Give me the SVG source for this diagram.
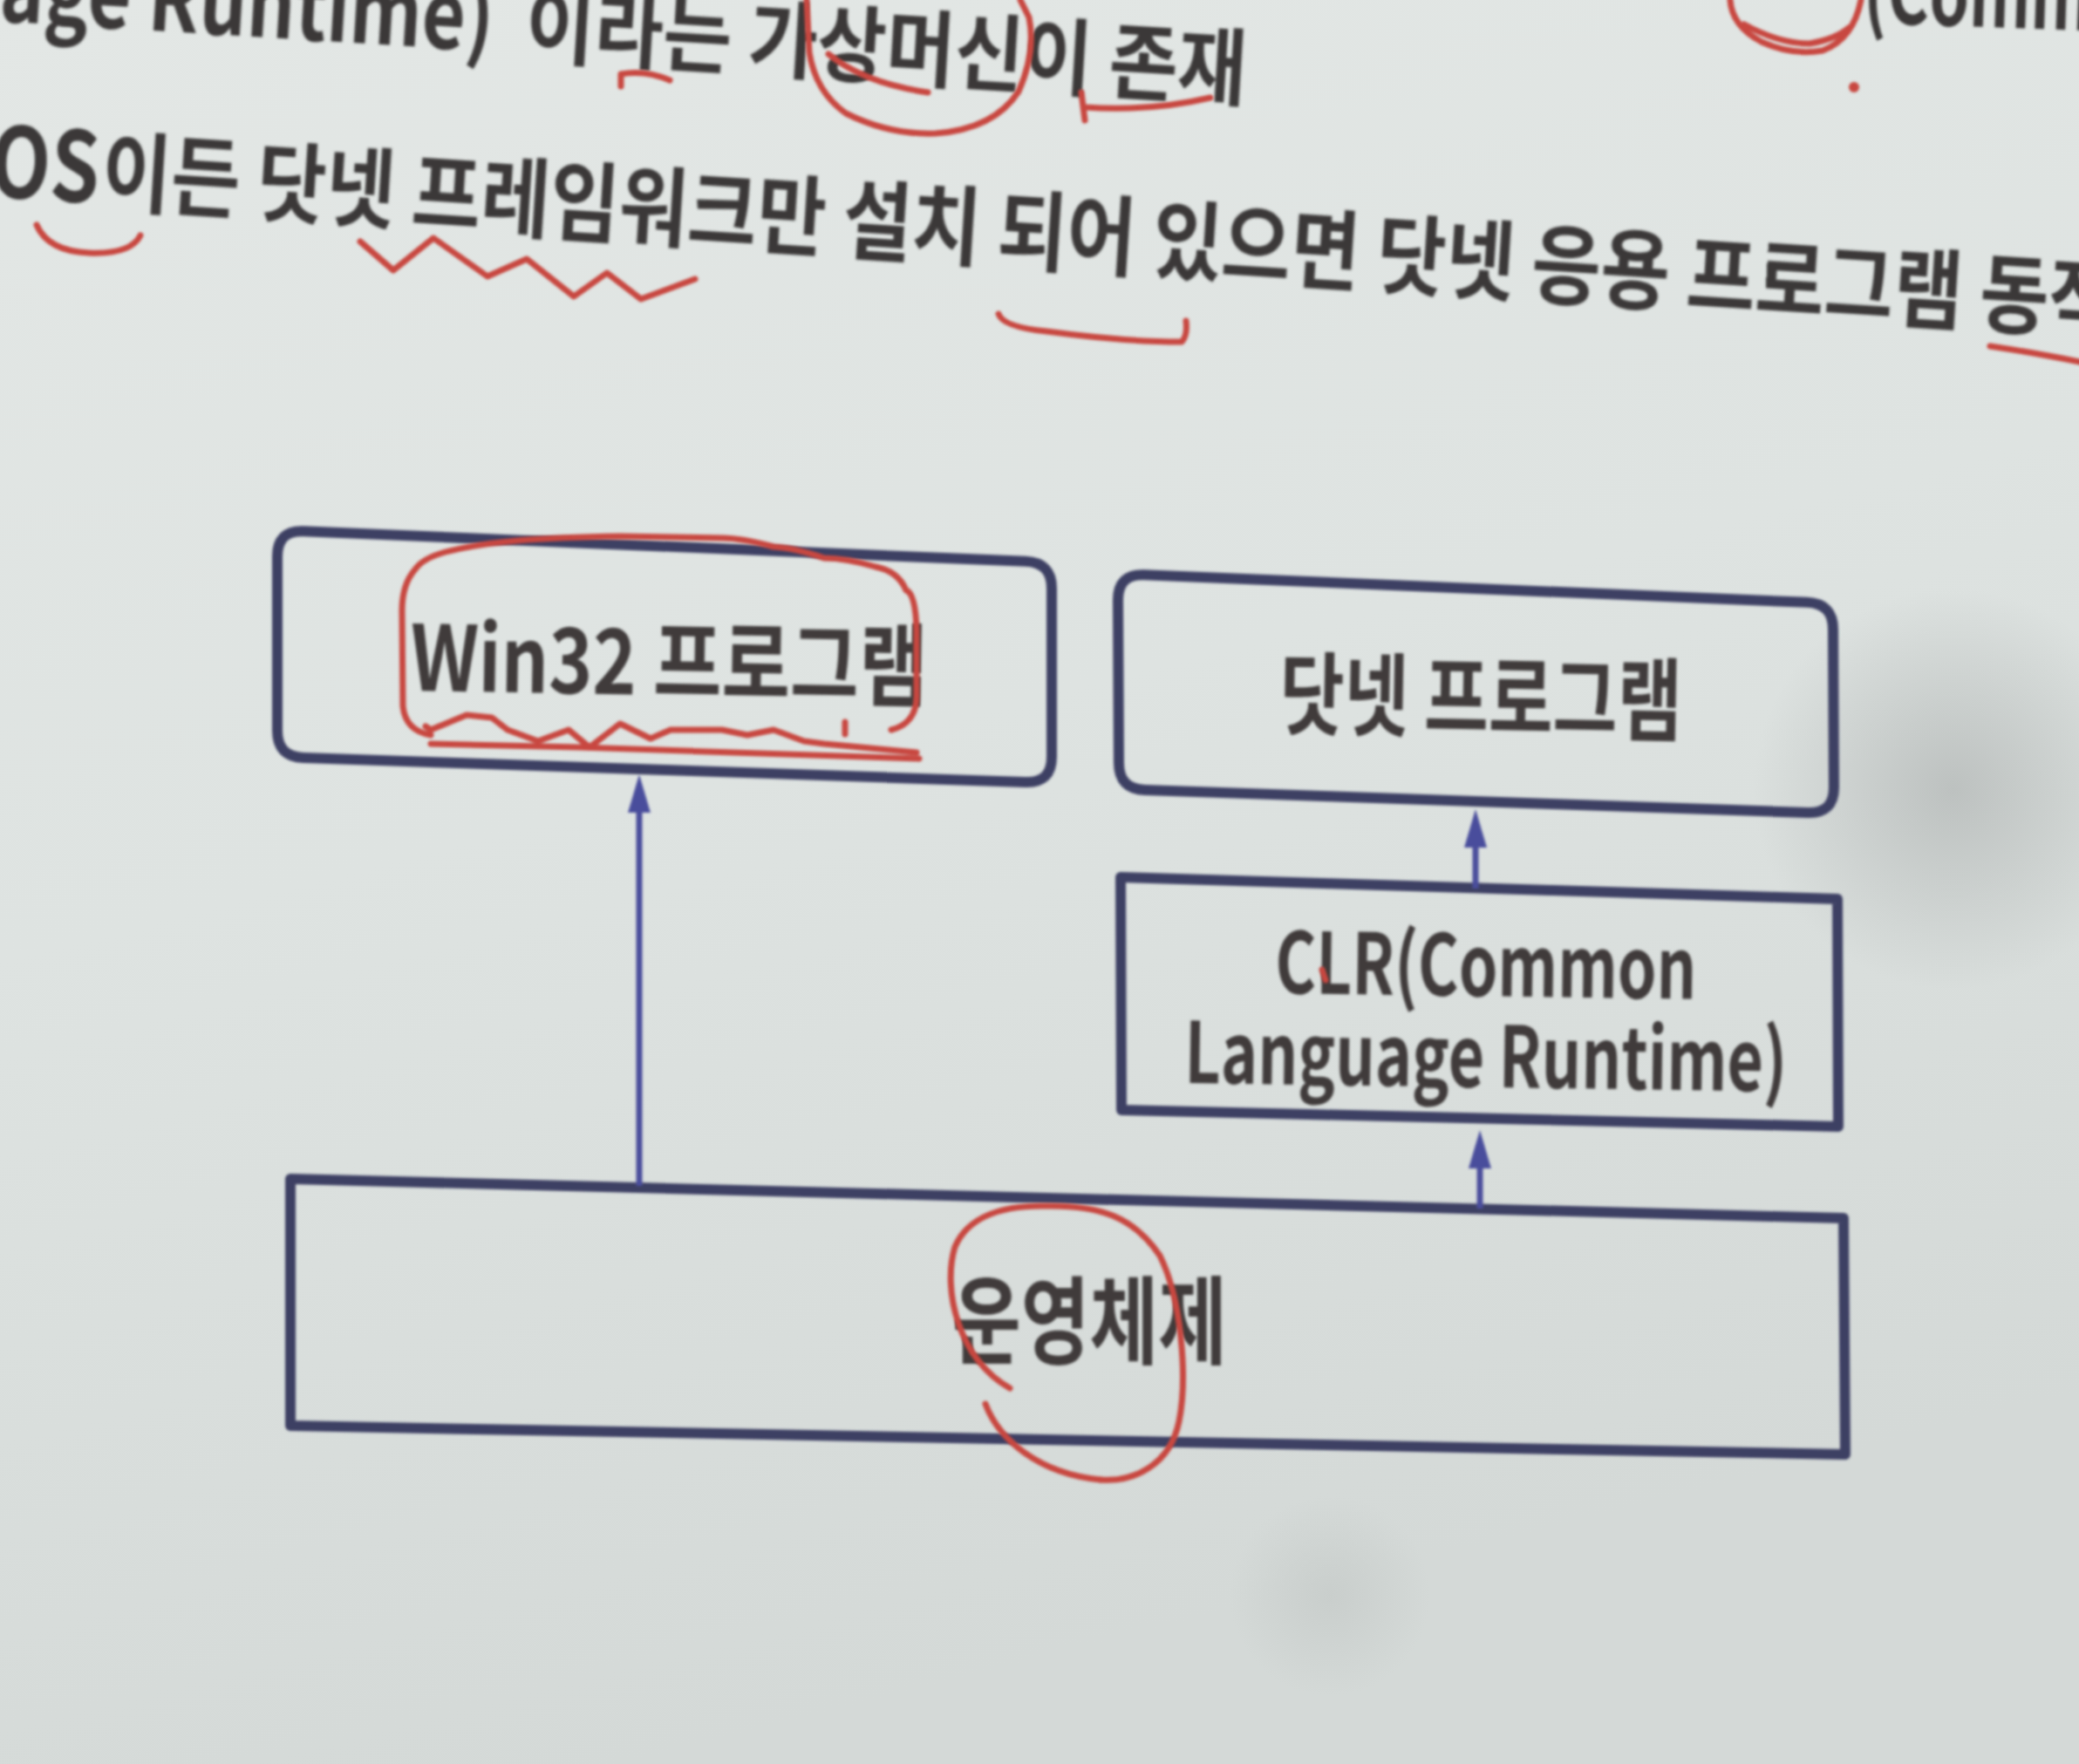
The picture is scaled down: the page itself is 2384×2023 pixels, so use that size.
<svg xmlns="http://www.w3.org/2000/svg" width="2384" height="2023" viewBox="0 0 2384 2023">
<defs>
<linearGradient id="bg" x1="0" y1="0" x2="0.3" y2="1">
<stop offset="0" stop-color="#e3e7e5"/>
<stop offset="0.5" stop-color="#dee3e1"/>
<stop offset="1" stop-color="#d4d9d7"/>
</linearGradient>
<radialGradient id="shadowR" cx="2240" cy="905" r="230" gradientUnits="userSpaceOnUse">
<stop offset="0" stop-color="#a9adac" stop-opacity="0.6"/>
<stop offset="0.5" stop-color="#a9adac" stop-opacity="0.3"/>
<stop offset="1" stop-color="#a9adac" stop-opacity="0"/>
</radialGradient>
<radialGradient id="shadowB" cx="1525" cy="1830" r="115" gradientUnits="userSpaceOnUse">
<stop offset="0" stop-color="#b5bab8" stop-opacity="0.35"/>
<stop offset="1" stop-color="#b5bab8" stop-opacity="0"/>
</radialGradient>
<filter id="soft" filterUnits="userSpaceOnUse" x="0" y="0" width="2384" height="2023"><feGaussianBlur stdDeviation="1.8"/></filter>
<marker id="arrow" viewBox="0 0 44 26" refX="29" refY="13" markerWidth="44" markerHeight="26" markerUnits="userSpaceOnUse" orient="auto"><path d="M0,0 L44,13 L0,26 Z" fill="#4a4e9c"/></marker>
</defs>
<style>
.box{fill:none;stroke:#3e4064;stroke-width:12;stroke-linejoin:round}
.lbl{font-family:"Noto Sans CJK KR","Noto Sans",sans-serif;font-weight:700;fill:#3f3b3b}
.slide{font-family:"Noto Sans CJK KR","Noto Sans",sans-serif;font-weight:700;fill:#3b3838}
.conn{stroke:#4a4e9c;stroke-width:7;fill:none}
.pen{fill:none;stroke:#c8463f;stroke-width:7;stroke-linecap:round;stroke-linejoin:round}
</style>
<rect x="0" y="0" width="2384" height="2023" fill="url(#bg)"/>
<rect x="1980" y="640" width="404" height="540" fill="url(#shadowR)"/>
<rect x="1380" y="1690" width="290" height="290" fill="url(#shadowB)"/>

<g id="slide-text" filter="url(#soft)">
<text class="slide" x="2136" y="26" font-size="100" textLength="262" lengthAdjust="spacingAndGlyphs" transform="rotate(2 2136 26)">(Comm</text>
<g transform="rotate(3.5 601 63)">
<text class="slide" x="-3" y="61" font-size="108" textLength="567" lengthAdjust="spacingAndGlyphs">age Runtime)</text>
<text class="slide" x="601" y="63" font-size="96" textLength="828" lengthAdjust="spacingAndGlyphs">이라는 가상머신이 존재</text>
</g>
<g transform="rotate(3.7 115 233)">
<text class="slide" x="-14" y="233" font-size="112" textLength="126" lengthAdjust="spacingAndGlyphs">OS</text>
<text class="slide" x="115" y="233" font-size="100" textLength="2316" lengthAdjust="spacingAndGlyphs">이든 닷넷 프레임워크만 설치 되어 있으면 닷넷 응용 프로그램 동작</text>
</g>
</g>

<g id="node-win32" filter="url(#soft)">
<path class="box" d="M348,609.3 L1176,643.8 Q1206,645 1206,675 L1206,868 Q1206,898 1176,897 L348,869 Q318,868 318,838 L318,638 Q318,608 348,609.3 Z"/>
<text class="lbl" x="470" y="792" font-size="104" textLength="593" lengthAdjust="spacingAndGlyphs" transform="rotate(1 470 792)">Win32 프로그램</text>
</g>

<g id="node-dotnet" filter="url(#soft)">
<path class="box" d="M1312,659.2 L2072,690.8 Q2102,692 2102,722 L2103,903 Q2103,933 2073,932 L1313,906 Q1283,905 1283,875 L1282,688 Q1282,658 1312,659.2 Z"/>
<text class="lbl" x="1467" y="834" font-size="104" textLength="461" lengthAdjust="spacingAndGlyphs" transform="rotate(1 1467 834)">닷넷 프로그램</text>
</g>

<g id="node-clr" filter="url(#soft)">
<path class="box" d="M1285,1006 L2107,1031 L2108,1292 L1286,1273 Z"/>
<text class="lbl" x="1462" y="1139" font-size="97" textLength="483" lengthAdjust="spacingAndGlyphs" transform="rotate(0.8 1462 1139)">CLR(Common</text>
<text class="lbl" x="1358" y="1242" font-size="97" textLength="691" lengthAdjust="spacingAndGlyphs" transform="rotate(0.8 1358 1242)">Language Runtime)</text>
</g>

<g id="node-os" filter="url(#soft)">
<path class="box" d="M333,1352 L2114,1397 L2116,1668 L333,1635 Z"/>
<text class="lbl" x="1092" y="1556" font-size="110" textLength="315" lengthAdjust="spacingAndGlyphs">운영체제</text>
</g>

<g id="connectors" filter="url(#soft)">
<line class="conn" x1="733" y1="1360" x2="733" y2="903" marker-end="url(#arrow)"/>
<line class="conn" x1="1692" y1="1019" x2="1692" y2="943" marker-end="url(#arrow)"/>
<line class="conn" x1="1697" y1="1386" x2="1697" y2="1311" marker-end="url(#arrow)"/>
</g>

<g id="pen-marks" filter="url(#soft)">
<path class="pen" d="M712,99 L712,85 Q740,80 768,92"/>
<path class="pen" d="M925,0 L928,60 Q935,105 970,130 Q1020,155 1073,153 Q1140,148 1168,105 Q1188,60 1180,20 L1170,0"/>
<path class="pen" d="M950,62 Q990,95 1064,106"/>
<path class="pen" d="M1240,106 L1244,138 M1244,123 Q1320,128 1388,112"/>
<path class="pen" d="M1984,0 Q1986,30 2020,48 Q2055,64 2090,58 Q2125,45 2134,0"/>
<path class="pen" d="M2000,28 Q2040,50 2075,50 Q2105,45 2120,32"/>
<circle cx="2126" cy="100" r="6" fill="#c8463f"/>
<path class="pen" stroke-width="9" d="M42,258 Q55,288 102,290 Q150,292 161,270"/>
<path class="pen" stroke-width="9" d="M413,277 L451,310 L497,273 L559,317 L604,297 L658,340 L696,313 L735,343 L797,320"/>
<path class="pen" stroke-width="9" d="M1145,360 Q1150,375 1200,380 Q1290,392 1355,392 Q1362,385 1360,368"/>
<path class="pen" stroke-width="9" d="M2282,397 Q2330,404 2390,416"/>
<path class="pen" d="M1022,837 Q1050,830 1051,800 L1051,723 Q1050,680 1039,677 Q1030,655 1004,650 Q970,640 945,640 Q910,628 887,627 Q850,617 828,617 L711,615 Q640,616 593,620 Q540,625 511,633 Q485,640 476,653 Q461,670 461,700 L462,810 Q465,838 494,843"/>
<path class="pen" d="M488,833 L494,837 L535,820 L564,823 L582,837 L617,850 L652,837 L676,857 L711,830 L746,847 L769,837 L828,837 L857,843 L887,837 L922,850 L945,853 L1051,863"/>
<path class="pen" d="M494,853 L664,857 L1054,870"/>
<path class="pen" d="M969,828 L969,842"/>
<path class="pen" stroke-width="4" d="M1516,1112 L1520,1124"/>
<path class="pen" d="M1158,1592 C1100,1560 1080,1480 1095,1430 C1110,1395 1150,1382 1200,1383 C1260,1382 1300,1395 1330,1440 C1355,1490 1362,1580 1352,1630 C1342,1680 1300,1700 1262,1697"/>
<path class="pen" d="M1130,1610 C1145,1650 1190,1690 1262,1697"/>
</g>
</svg>
